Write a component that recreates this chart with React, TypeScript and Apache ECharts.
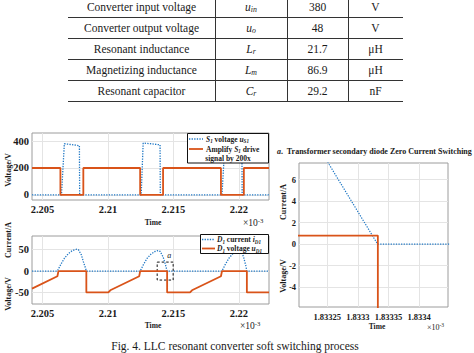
import React, { useEffect, useRef } from "react";
import * as echarts from "echarts";

// ---------- Table data ----------
const paramNames = [
  "Converter input voltage",
  "Converter output voltage",
  "Resonant inductance",
  "Magnetizing inductance",
  "Resonant capacitor",
];
const symbolBase = ["u", "u", "L", "L", "C"];
const symbolSub = ["in", "o", "r", "m", "r"];
const paramValues = ["380", "48", "21.7", "86.9", "29.2"];
const paramUnits = ["V", "V", "\u03bcH", "\u03bcH", "nF"];

// ---------- Chart data (time in ms, i.e. x10^-3 s) ----------
const leftTimeTicks = [2.205, 2.21, 2.215, 2.22];
const topVoltTicks = [0, 200, 400];
const bottomTicks = [-50, 0, 50];
const zcsTimeTicks = [1.83325, 1.8333, 1.83335, 1.8334];
const zcsTicks = [-4, -2, 0, 2, 4, 6];

const s1Voltage: number[][] = [
  [2.2042, 0], [2.20645, 0], [2.20667, 380], [2.2072, 374], [2.20782, 366], [2.20784, 0],
  [2.21254, 0], [2.21269, 385], [2.2133, 380], [2.21398, 372], [2.214, 0],
  [2.21871, 0], [2.21893, 380], [2.2196, 375], [2.22023, 368], [2.22025, 0], [2.2223, 0],
];
const driveSignal200x: number[][] = [
  [2.2042, 200], [2.20637, 200], [2.20637, 0], [2.20812, 0], [2.20812, 200],
  [2.21246, 200], [2.21246, 0], [2.21421, 0], [2.21421, 200],
  [2.21863, 200], [2.21863, 0], [2.22038, 0], [2.22038, 200], [2.2223, 200],
];
const d1Current: number[][] = [
  [2.2042, 0], [2.206142, 0], [2.206371, 14], [2.206675, 30], [2.20698, 41], [2.207284, 48],
  [2.207589, 51], [2.207741, 50], [2.20797, 38], [2.208122, 22], [2.208274, 8], [2.20835, 0],
  [2.212462, 0], [2.212691, 14], [2.212995, 30], [2.2133, 40], [2.213604, 46], [2.213833, 48],
  [2.213985, 46], [2.214213, 33], [2.214366, 18], [2.214442, 9], [2.214518, 0],
  [2.218706, 0], [2.218934, 14], [2.219239, 30], [2.219544, 41], [2.219848, 48], [2.220077, 50],
  [2.220229, 45], [2.220381, 30], [2.220534, 12], [2.22061, 0], [2.2223, 0],
];
const d1Voltage: number[][] = [
  [2.2042, -41], [2.20614, -12], [2.20622, 0], [2.20835, 0], [2.20835, -50],
  [2.21003, -50], [2.21018, -45], [2.21239, -12], [2.21246, 0], [2.21452, 0], [2.21452, -50],
  [2.21627, -50], [2.21642, -45], [2.21863, -12], [2.21871, 0], [2.22061, 0], [2.22061, -50],
  [2.2223, -50],
];
const zcsCurrent: number[][] = [[1.8332, 12.4], [1.8333322, 0], [1.83345, 0]];
const zcsVoltage: number[][] = [[1.8332, 0.8], [1.8333326, 0.8], [1.8333326, -30]];

const serif = "Liberation Serif";
const BLUE = "#1f77c4";
const ORANGE = "#d95319";
const GRID_LINE = "#e4e4e4";
const BOX = "#9c9c9c";

const fmt = (v: number) => String(+(+v).toFixed(6));

function axisCfg(gridIndex: number, min: number, max: number, ticks: number[], fontSize: number, margin: number) {
  return {
    type: "value", gridIndex, min, max,
    axisLine: { show: false },
    axisTick: { show: false, customValues: ticks },
    axisLabel: {
      customValues: ticks, formatter: fmt, fontFamily: serif, fontWeight: "bold",
      fontSize, color: "#1a1a1a", margin, hideOverlap: false,
    },
    splitLine: { show: true, lineStyle: { color: GRID_LINE, width: 1 } },
  };
}

function txt(x: number, y: number, text: string, o: any = {}) {
  const fs = o.fontSize || 8;
  const fw = o.fontWeight || "normal";
  const fst = o.fontStyle || "normal";
  return {
    type: "text", x, y, z: 100, rotation: o.rotation || 0,
    style: {
      text, font: `${fst} ${fw} ${fs}px "${serif}", serif`,
      fontFamily: serif, fontSize: fs, fontWeight: fw,
      fontStyle: fst, fill: o.fill || "#1a1a1a",
      align: o.align || "center", verticalAlign: "middle", rich: o.rich,
    },
  };
}
function hline(x1: number, y1: number, x2: number, y2: number, stroke: string, lineWidth: number, dash?: number[]) {
  return {
    type: "line", z: 100, shape: { x1, y1, x2, y2 },
    style: { stroke, lineWidth, lineDash: dash },
  };
}

function richFor(fontSize: number, bold: boolean) {
  const fw = bold ? "bold" : "normal";
  return {
    it: { fontStyle: "italic", fontWeight: fw, fontSize, fontFamily: serif, lineHeight: fontSize + 2 },
    n: { fontWeight: fw, fontSize, fontFamily: serif, lineHeight: fontSize + 2 },
    sub: { fontStyle: "italic", fontWeight: fw, fontSize: fontSize * 0.68, fontFamily: serif, lineHeight: fontSize * 0.7, verticalAlign: "bottom" },
    sup: { fontWeight: fw, fontSize: fontSize * 0.7, fontFamily: serif, lineHeight: fontSize * 0.7, verticalAlign: "top" },
  };
}

function buildGraphics() {
  const g: any[] = [];
  // table
  const colX = [68, 215, 287, 348, 403];
  const rowLines = [17, 38, 59, 80, 101];
  [215, 287, 348].forEach((x) => g.push(hline(x + 0.5, 0, x + 0.5, 101, "#333", 1)));
  rowLines.forEach((y) => g.push(hline(68, y + 0.5, 403, y + 0.5, "#333", 1)));
  const tr = richFor(11.5, false);
  paramNames.forEach((name, i) => {
    const cy = rowLines[i] - 10;
    g.push(txt((colX[0] + colX[1]) / 2, cy, `{n|${name}}`, { fontSize: 11.5, rich: tr }));
    g.push(txt((colX[1] + colX[2]) / 2, cy, `{it|${symbolBase[i]}}{sub|${symbolSub[i]}}`, { fontSize: 11.5, rich: tr }));
    g.push(txt((colX[2] + colX[3]) / 2, cy, `{n|${paramValues[i]}}`, { fontSize: 11.5, rich: tr }));
    g.push(txt((colX[3] + colX[4]) / 2, cy, `{n|${paramUnits[i]}}`, { fontSize: 11.5, rich: tr }));
  });

  const lr = richFor(7.5, true);
  // top-left legend
  g.push({ type: "rect", z: 99, shape: { x: 187.5, y: 133.5, width: 81, height: 29.5 }, style: { fill: "#fff", stroke: "#111", lineWidth: 1 } });
  g.push(hline(189, 139, 203, 139, BLUE, 1.3, [1.3, 1.3]));
  g.push(txt(206, 139, "{it|S}{sub|1}{n| voltage }{it|u}{sub|S1}", { align: "left", fontSize: 7.5, fontWeight: "bold", rich: lr }));
  g.push(hline(189, 149, 203, 149, ORANGE, 1.8));
  g.push(txt(206, 149, "{n|Amplify }{it|S}{sub|1}{n| drive}", { align: "left", fontSize: 7.5, fontWeight: "bold", rich: lr }));
  g.push(txt(228, 158, "{n|signal by 200x}", { fontSize: 7.5, fontWeight: "bold", rich: lr }));

  // bottom-left legend
  g.push({ type: "rect", z: 99, shape: { x: 200.5, y: 234.5, width: 68, height: 19 }, style: { fill: "#fff", stroke: "#111", lineWidth: 1 } });
  g.push(hline(202, 239.5, 215, 239.5, BLUE, 1.3, [1.3, 1.3]));
  g.push(txt(217, 239.5, "{it|D}{sub|1}{n| current }{it|i}{sub|D1}", { align: "left", fontSize: 7.5, fontWeight: "bold", rich: lr }));
  g.push(hline(202, 248.5, 215, 248.5, ORANGE, 1.8));
  g.push(txt(217, 248.5, "{it|D}{sub|1}{n| voltage }{it|u}{sub|D1}", { align: "left", fontSize: 7.5, fontWeight: "bold", rich: lr }));

  // axis names
  const rot = Math.PI / 2;
  const nr = richFor(8, true);
  g.push(txt(8, 170, "{n|Voltage/V}", { rotation: rot, fontSize: 8, fontWeight: "bold", rich: nr }));
  g.push(txt(8, 240, "{n|Current/A}", { rotation: rot, fontSize: 8, fontWeight: "bold", rich: nr }));
  g.push(txt(8, 294, "{n|Voltage/V}", { rotation: rot, fontSize: 8, fontWeight: "bold", rich: nr }));
  g.push(txt(283, 202, "{n|Current/A}", { rotation: rot, fontSize: 8, fontWeight: "bold", rich: nr }));
  g.push(txt(283, 276, "{n|Voltage/V}", { rotation: rot, fontSize: 8, fontWeight: "bold", rich: nr }));
  const tl = richFor(7.5, true);
  g.push(txt(153, 222, "{n|Time}", { fontSize: 7.5, fontWeight: "bold", rich: tl }));
  g.push(txt(153, 325, "{n|Time}", { fontSize: 7.5, fontWeight: "bold", rich: tl }));
  g.push(txt(377, 326, "{n|Time}", { fontSize: 7.5, fontWeight: "bold", rich: tl }));
  const er = richFor(9.5, false);
  g.push(txt(243, 223, "{n|\u00d710}{sup|-3}", { align: "left", fontSize: 9.5, rich: er }));
  g.push(txt(240, 326, "{n|\u00d710}{sup|-3}", { align: "left", fontSize: 9.5, rich: er }));
  const er2 = richFor(8, false);
  g.push(txt(427, 327, "{n|\u00d710}{sup|-3}", { align: "left", fontSize: 8, rich: er2 }));

  // right title
  const tr2 = richFor(8, true);
  g.push(txt(277, 151, "{it|a}{n|.  Transformer secondary diode Zero Current Switching}", { align: "left", fontSize: 8, fontWeight: "bold", rich: tr2 }));

  // caption
  const cr = richFor(11.5, false);
  g.push(txt(235, 346, "{n|Fig. 4. LLC resonant converter soft switching process}", { fontSize: 11.5, rich: cr }));
  return g;
}

export default function App() {
  const ref = useRef<HTMLDivElement>(null);
  useEffect(() => {
    if (!ref.current) return;
    const chart = echarts.init(ref.current, undefined, { renderer: "svg" });
    const gridBase = { show: true, borderColor: BOX, borderWidth: 1, backgroundColor: "transparent", containLabel: false };
    chart.setOption({
      animation: false,
      backgroundColor: "#fff",
      grid: [
        { ...gridBase, left: 32, top: 133, width: 237, height: 67 },
        { ...gridBase, left: 32, top: 236, width: 237, height: 68 },
        { ...gridBase, left: 299, top: 163, width: 149, height: 144 },
      ],
      xAxis: [
        axisCfg(0, 2.2042, 2.2223, leftTimeTicks, 10.5, 4),
        axisCfg(1, 2.2042, 2.2223, leftTimeTicks, 10.5, 4),
        axisCfg(2, 1.833204, 1.833447, zcsTimeTicks, 8.5, 5),
      ],
      yAxis: [
        axisCfg(0, -38, 460, topVoltTicks, 10.5, 3),
        axisCfg(1, -77, 82, bottomTicks, 10.5, 3),
        axisCfg(2, -5.85, 7.55, zcsTicks, 8.5, 3),
      ],
      series: [
        { type: "line", xAxisIndex: 0, yAxisIndex: 0, data: s1Voltage, symbol: "none", lineStyle: { color: BLUE, width: 1.3, type: [1.3, 1.3] } },
        { type: "line", xAxisIndex: 0, yAxisIndex: 0, data: driveSignal200x, symbol: "none", lineStyle: { color: ORANGE, width: 1.8 } },
        { type: "line", xAxisIndex: 1, yAxisIndex: 1, data: d1Current, symbol: "none", lineStyle: { color: BLUE, width: 1.3, type: [1.3, 1.3] } },
        {
          type: "line", xAxisIndex: 1, yAxisIndex: 1, data: d1Voltage, symbol: "none", lineStyle: { color: ORANGE, width: 1.8 },
          markArea: {
            silent: true,
            itemStyle: { color: "rgba(0,0,0,0)", borderColor: "#111", borderWidth: 1, borderType: [2.5, 2] },
            label: { show: true, position: "top", formatter: "a", fontFamily: serif, fontStyle: "italic", fontSize: 8, color: "#111", offset: [4, 3] },
            data: [[{ xAxis: 2.21376, yAxis: 21 }, { xAxis: 2.21498, yAxis: -21 }]],
          },
        },
        { type: "line", xAxisIndex: 2, yAxisIndex: 2, data: zcsCurrent, symbol: "none", lineStyle: { color: BLUE, width: 1.2, type: [1.3, 1.3] } },
        { type: "line", xAxisIndex: 2, yAxisIndex: 2, data: zcsVoltage, symbol: "none", lineStyle: { color: ORANGE, width: 1.8 } },
      ],
      graphic: buildGraphics(),
    });
    return () => chart.dispose();
  }, []);
  return <div ref={ref} style={{ position: "absolute", left: 0, top: 0, width: 474, height: 353 }} />;
}
